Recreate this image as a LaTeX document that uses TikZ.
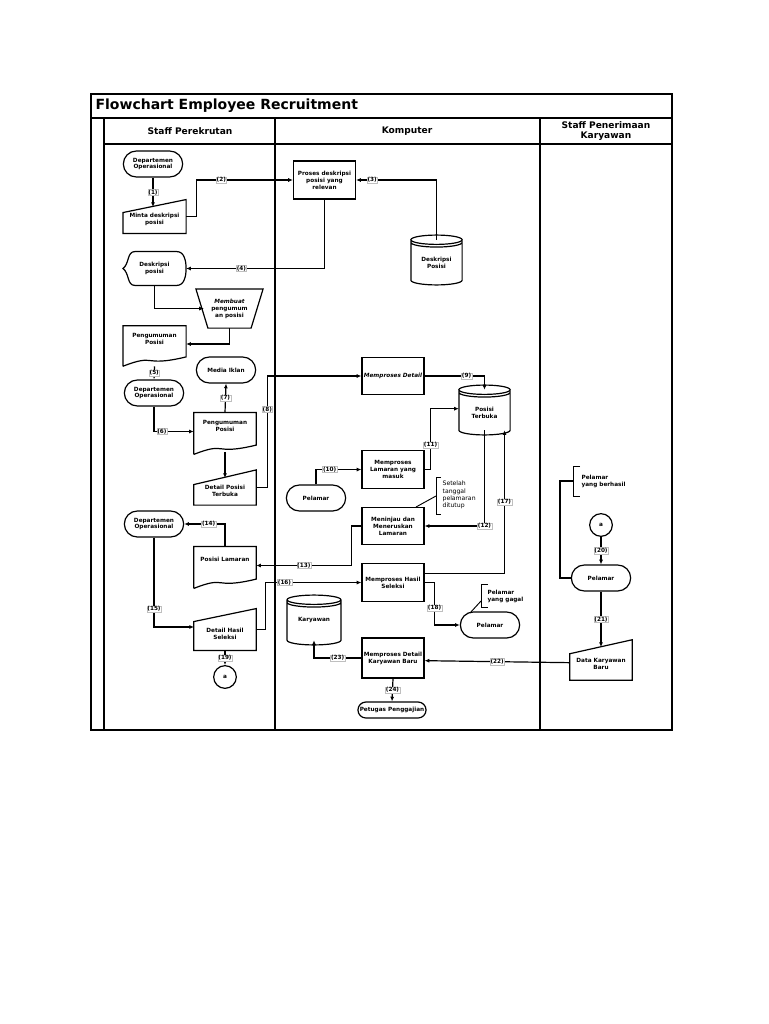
\documentclass[tikz,border=0pt]{standalone}
\usepackage{fontspec}
\setmainfont{DejaVu Sans}
\usetikzlibrary{shapes.misc,arrows.meta,calc}
\begin{document}
\begin{tikzpicture}[x=0.75pt,y=-0.75pt,
  every node/.style={font=\fontsize{4.3}{5.2}\selectfont\bfseries,align=center,inner sep=1pt},
  ln/.style={line width=0.9pt},
  arr/.style={ln,-{Latex[length=3.5pt,width=3pt]}},
  box/.style={draw,ln,minimum width=46.5pt,minimum height=28pt},
  term/.style={draw,ln,rounded rectangle,minimum width=46.5pt,minimum height=19.5pt},
  plain/.style={minimum width=46.5pt,minimum height=26pt},
  lbl/.style={fill=white,draw=black!25,line width=0.2pt,inner sep=0.4pt,font=\fontsize{4.3}{5}\selectfont\bfseries},
  ann/.style={font=\fontsize{4.3}{5.2}\selectfont\bfseries,align=left,anchor=west,inner sep=1pt}]
\newcommand\minput[2]{\draw[ln] ([yshift=-#2]#1.north west) -- (#1.north east) -- (#1.south east) -- (#1.south west) -- cycle;}
\newcommand\docshape[1]{\draw[ln] ([yshift=-3pt]#1.south west) -- (#1.north west) -- (#1.north east) -- ([yshift=4pt]#1.south east) .. controls ([xshift=-10pt,yshift=-4pt]#1.south) and ([xshift=2pt,yshift=7pt]#1.south) .. ([yshift=-3pt]#1.south west);}
\newcommand\cyl[1]{\draw[ln] let \p1=(#1.north west),\p2=(#1.north east),\n1={(\x2-\x1)/2} in
  (#1.north west) -- (#1.south west) arc[start angle=180,end angle=360,x radius=\n1,y radius=3.5pt] -- (#1.north east)
  (#1.north) ellipse[x radius=\n1,y radius=3.5pt]
  ([yshift=-2pt]#1.north west) arc[start angle=180,end angle=360,x radius=\n1,y radius=3.5pt];}
\useasboundingbox (0,0) rectangle (768,1024);
% frame
\draw[line width=1pt] (91,94) rectangle (672,730);
\draw[line width=0.8pt] (91,118) -- (672,118) (104,144) -- (672,144) (104,118) -- (104,730) (540,118) -- (540,730);
\draw[line width=1.1pt] (275,118) -- (275,730);
\node[anchor=west,font=\fontsize{10.5}{12}\selectfont\bfseries] (title) at (94,106) {Flowchart Employee Recruitment};
\node[font=\fontsize{6.8}{8}\selectfont\bfseries] (h1) at (190,131) {Staff Perekrutan};
\node[font=\fontsize{6.8}{8}\selectfont\bfseries] (h2) at (407,131) {Komputer};
\node[font=\fontsize{6.8}{8}\selectfont\bfseries] (h3) at (606,131) {Staff Penerimaan\\Karyawan};
% nodes
\node[term] (dept1) at (153,164) {Departemen\\Operasional};
\node[plain,minimum width=47pt,minimum height=25pt] (minta) at (154.5,216.5) {\\[2pt]Minta deskripsi\\posisi};
\minput{minta}{9.75pt}
\coordinate (mintaT) at (153,207);
\node[box,minimum height=28.5pt] (proses) at (324.5,180) {Proses deskripsi\\posisi yang\\relevan};
\node[plain,minimum width=38pt,minimum height=30pt] (dbdesk) at (436.5,260) {\\[2pt]Deskripsi\\Posisi};
\cyl{dbdesk}
\node[plain,minimum width=47pt,minimum height=25pt] (desk) at (154.5,268.5) {Deskripsi\\posisi};
\draw[ln] ([xshift=9pt]desk.north west) -- ([xshift=-7pt]desk.north east) to[out=0,in=90] (desk.east) to[out=-90,in=0] ([xshift=-7pt]desk.south east) -- ([xshift=9pt]desk.south west) to[out=180,in=-35] (desk.west) to[out=35,in=180] cycle;
\node[plain,minimum width=50pt,minimum height=29pt] (membuat) at (229.5,308.5) {\itshape Membuat\\pengumum\\an posisi};
\draw[ln] (membuat.north west) -- (membuat.north east) -- ([xshift=-9pt]membuat.south east) -- ([xshift=9pt]membuat.south west) -- cycle;
\node[plain,minimum width=47pt,minimum height=27pt] (peng1) at (154.5,344) {Pengumuman\\Posisi\\[3pt]};
\docshape{peng1}
\node[term] (dept2) at (154,393) {Departemen\\Operasional};
\node[term] (media) at (226,370) {Media Iklan};
\node[plain,minimum height=28pt] (peng2) at (225,431.5) {Pengumuman\\Posisi\\[3pt]};
\docshape{peng2}
\node[plain,minimum height=26pt] (dpt) at (225,487.5) {\\[3pt]Detail Posisi\\Terbuka};
\minput{dpt}{11pt}
\coordinate (dptT) at (225,478);
\node[box] (mdet) at (393,376) {\itshape Memproses Detail};
\node[plain,minimum width=38pt,minimum height=30pt] (posisi) at (484.5,410) {\\[2pt]Posisi\\Terbuka};
\cyl{posisi}
\node[box] (mlam) at (393,469.5) {Memproses\\Lamaran yang\\masuk};
\node[term] (pel1) at (316,498) {Pelamar};
\node[box] (meninjau) at (393,526) {Meninjau dan\\Meneruskan\\Lamaran};
\node[ann,font=\fontsize{4.6}{5.4}\selectfont] (ann1) at (441,495) {Setelah\\tanggal\\pelamaran\\ditutup};
\draw[ln,line width=0.7pt] (441,477) -- (436,477) -- (436,514) -- (441,514);
\draw[ln,line width=0.7pt] (436,496) -- (416,507);
\node[term] (dept3) at (154,524) {Departemen\\Operasional};
\node[plain,minimum height=28pt] (plam) at (225,565.5) {Posisi Lamaran\\[4pt]};
\docshape{plam}
\node[box,minimum height=29pt] (mhasil) at (393,582.5) {Memproses Hasil\\Seleksi};
\node[plain,minimum height=31pt] (dhs) at (225,629.5) {\\[4pt]Detail Hasil\\Seleksi};
\minput{dhs}{9.75pt}
\coordinate (dhsL) at (194,627);
\node[draw,ln,circle,minimum size=17pt,inner sep=0pt] (conA) at (225,677) {a};
\node[plain,minimum width=40pt,minimum height=30pt] (kary) at (314,620) {Karyawan};
\cyl{kary}
\node[term] (pel2) at (490,625) {Pelamar};
\node[ann] (ann2) at (486,596) {Pelamar\\yang gagal};
\draw[ln,line width=0.7pt] (488,584) -- (481,584) -- (481,607) -- (488,607);
\draw[ln,line width=0.7pt] (481,601) -- (470,613);
\node[box,minimum height=30pt] (mdkb) at (393,658) {Memproses Detail\\Karyawan Baru};
\node[draw,ln,rounded rectangle,minimum width=49pt,minimum height=12pt] (petugas) at (392,710) {Petugas Penggajian};
\node[ann] (ann3) at (580,481) {Pelamar\\yang berhasil};
\draw[ln,line width=0.7pt] (580,466) -- (573,466) -- (573,496) -- (580,496);
\node[draw,ln,circle,minimum size=17pt,inner sep=0pt] (conB) at (601,525) {a};
\node[term] (pel3) at (601,578) {Pelamar};
\node[plain,minimum height=30pt] (dkb) at (601,660) {\\[4pt]Data Karyawan\\Baru};
\minput{dkb}{10.5pt}
\coordinate (dkbT) at (601,647);
\draw[ln] (573,481) -- (560,481) |- (pel3.west);
% connectors
\draw[arr] (dept1.south) -- node[lbl]{(1)} (mintaT);
\draw[arr] (minta.east) -- ++(10,0) |- node[lbl,pos=0.63]{(2)} (proses.west);
\draw[arr] (dbdesk.north) |- node[lbl,pos=0.9]{(3)} (proses.east);
\draw[arr] (proses.south) |- node[lbl,pos=0.8]{(4)} (desk.east);
\draw[arr] (desk.south) |- ([xshift=6pt]membuat.west);
\draw[arr] (membuat.south) |- (peng1.east);
\draw[arr] ([yshift=-3pt]peng1.south) -- node[lbl]{(5)} (dept2.north);
\draw[arr] (dept2.south) |- node[lbl,pos=0.6]{(6)} (peng2.west);
\draw[arr] (peng2.north) -- node[lbl]{(7)} (media.south);
\draw[arr] ([yshift=-1pt]peng2.south) -- (dptT);
\draw[arr] (dpt.east) -- ++(11,0) |- node[lbl,pos=0.35]{(8)} (mdet.west);
\draw[arr] (mdet.east) -| node[lbl,pos=0.35]{(9)} (posisi.north);
\draw[arr] (pel1.north) |- node[lbl,pos=0.65]{(10)} (mlam.west);
\draw[arr] (mlam.east) -- ++(6,0) |- node[lbl,pos=0.2]{(11)} ([yshift=1pt]posisi.west);
\draw[arr] (posisi.south) |- node[lbl,pos=0.5]{(12)} (meninjau.east);
\draw[arr] (meninjau.west) -- ++(-10,0) |- node[lbl,pos=0.75]{(13)} (plam.east);
\draw[arr] (plam.north) |- node[lbl,pos=0.7]{(14)} (dept3.east);
\draw[arr] (dept3.south) |- node[lbl,pos=0.4]{(15)} (dhsL);
\draw[arr] (dhs.east) -- ++(9,0) |- node[lbl,pos=0.6]{(16)} (mhasil.west);
\draw[arr] ([yshift=7pt]mhasil.east) -| node[lbl,pos=0.75]{(17)} ([xshift=15pt]posisi.south);
\draw[arr] (mhasil.east) -- ++(10,0) |- node[lbl,pos=0.3]{(18)} (pel2.west);
\draw[arr] (dhs.south) -- node[lbl]{(19)} (conA.north);
\draw[arr] (conB.south) -- node[lbl]{(20)} (pel3.north);
\draw[arr] (pel3.south) -- node[lbl]{(21)} (dkbT);
\draw[arr] ([yshift=-2pt]dkb.west) -- node[lbl]{(22)} ([yshift=-2pt]mdkb.east);
\draw[arr] (mdkb.west) -| node[lbl,pos=0.25]{(23)} (kary.south);
\draw[arr] (mdkb.south) -- node[lbl]{(24)} (petugas.north);
\end{tikzpicture}
\end{document}
